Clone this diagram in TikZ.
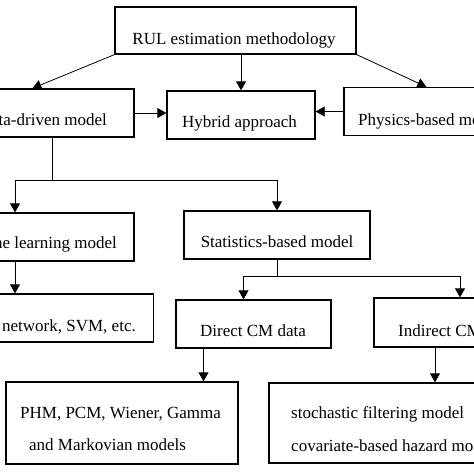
\documentclass[tikz,border=0pt]{standalone}
\usepackage{fontspec}
\setmainfont{Liberation Serif}
\usetikzlibrary{arrows.meta,calc}
\tikzset{
  box/.style={draw, line width=1.3pt, inner sep=0pt},
  txt/.style={inner sep=0pt, font=\fontsize{17}{20}\selectfont},
  conn/.style={line width=0.8pt},
  arr/.style={conn, -{Triangle[width=10pt,length=9pt]}}
}
\begin{document}
\begin{tikzpicture}[x=1pt,y=-1pt]
\useasboundingbox (0,0) rectangle (474,474);
\clip (0,0) rectangle (474,474);
% boxes
\node[box, minimum width=241pt, minimum height=47pt] (top) at (235.5,30.5) {};
\node[box, minimum width=164pt, minimum height=48pt] (dd) at (52,113) {};
\node[box, minimum width=148pt, minimum height=48pt] (hyb) at (241,115) {};
\node[box, minimum width=180pt, minimum height=48pt] (phys) at (434,111.5) {};
\node[box, minimum width=238pt, minimum height=48pt] (ml) at (15,237) {};
\node[box, minimum width=186pt, minimum height=48pt] (stats) at (277,235) {};
\node[box, minimum width=278pt, minimum height=48pt] (nn) at (14.5,318) {};
\node[box, minimum width=155pt, minimum height=48pt] (direct) at (253.5,324) {};
\node[box, minimum width=172pt, minimum height=49pt] (indirect) at (460,322.5) {};
\node[box, minimum width=232pt, minimum height=82pt] (phm) at (122,423) {};
\node[box, minimum width=300pt, minimum height=80pt] (stoch) at (419,423) {};
% texts
\node[txt, anchor=base] (topt) at (234,44) {RUL estimation methodology};
\node[txt, anchor=base east] (ddt) at (107,125) {Data-driven model};
\node[txt, anchor=base] (hybt) at (239.5,127.5) {Hybrid approach};
\node[txt, anchor=base west] (physt) at (358,125) {Physics-based model};
\node[txt, anchor=base east] (mlt) at (117,248) {Machine learning model};
\node[txt, anchor=base] (statst) at (277,247) {Statistics-based model};
\node[txt, anchor=base east] (nnt) at (136,331.5) {Neural network, SVM, etc.};
\node[txt, anchor=base] (directt) at (253,336.5) {Direct CM data};
\node[txt, anchor=base west] (indirectt) at (398,336) {Indirect CM data};
\node[txt, anchor=base west] (phma) at (20,418) {PHM, PCM, Wiener, Gamma};
\node[txt, anchor=base west] (phmb) at (29,450.5) {and Markovian models};
\node[txt, anchor=base west] (stocha) at (291,418) {stochastic filtering model};
\node[txt, anchor=base west] (stochb) at (291,451) {covariate-based hazard model};
% connectors
\draw[arr] (top.south west) -- ($(dd.north west)+(63,0)$);
\draw[arr] (top.south -| hyb.north) -- (hyb.north);
\draw[arr] (top.south east) -- ($(phys.north west)+(83,0)$);
\draw[arr] (dd.east) -- (dd.east -| hyb.west);
\draw[arr] (phys.west) -- (phys.west -| hyb.east);
\coordinate (b1) at ($(dd.south)+(0,43)$);
\draw[conn] (dd.south) -- (b1);
\draw[arr] (b1) -| (ml.north);
\draw[arr] (b1) -| (stats.north);
\draw[arr] (ml.south) -- (ml.south |- nn.north);
\coordinate (b2) at ($(stats.south)+(0,17)$);
\coordinate (dn) at ($(direct.north)+(-10,0)$);
\draw[conn] (stats.south) -- (b2);
\draw[arr] (b2) -| (dn);
\draw[arr] (b2) -| (indirect.north);
\coordinate (ds) at ($(direct.south)+(-50,0)$);
\coordinate (is) at ($(indirect.south)+(-25,0)$);
\draw[arr] (ds) -- (ds |- phm.north);
\draw[arr] (is) -- (is |- stoch.north);
\end{tikzpicture}
\end{document}
